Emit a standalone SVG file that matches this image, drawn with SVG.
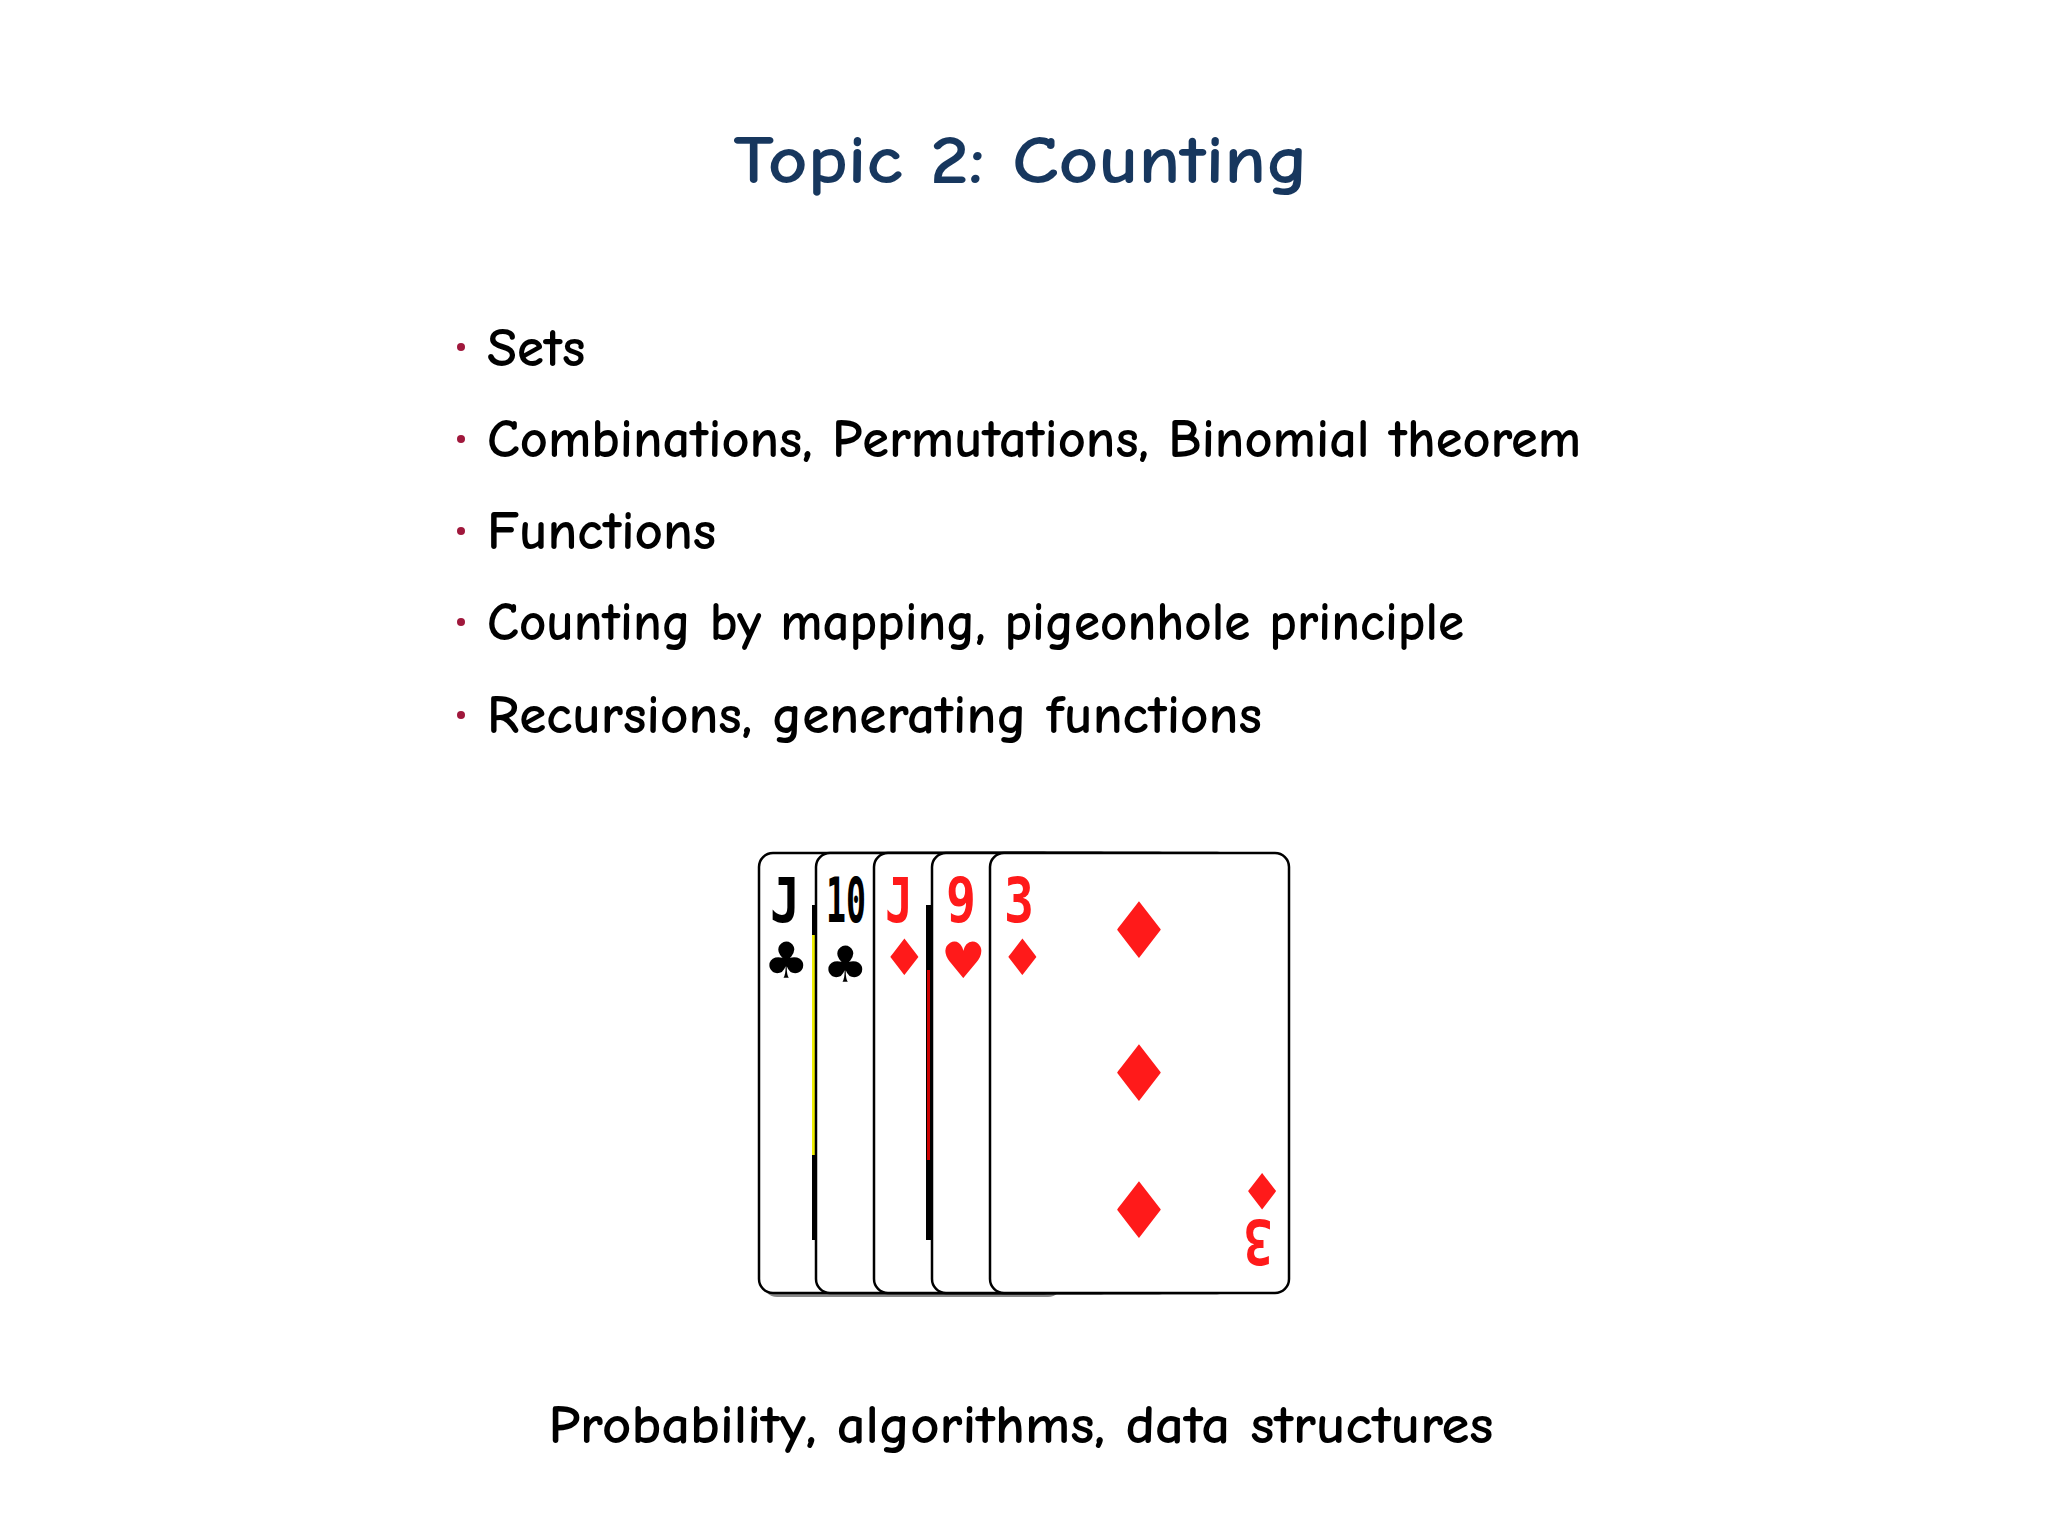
<svg xmlns="http://www.w3.org/2000/svg" width="2048" height="1536" viewBox="0 0 2048 1536">
<style>
.t{font-family:"Comic Neue","Liberation Sans","DejaVu Sans",sans-serif;font-size:55px;fill:#000;font-weight:bold}
.b{fill:#a0183c}
.card{fill:#fff;stroke:#000;stroke-width:2.5}
.rk{font-family:"DejaVu Sans Mono","Liberation Mono",monospace;font-weight:bold;font-size:62px}
.st{font-family:"DejaVu Sans",sans-serif;font-size:50px}
.red{fill:#ff1a1a}.blk{fill:#000}
</style>
<rect width="2048" height="1536" fill="#fff"/>
<g id="title"><text x="1021" y="183" text-anchor="middle" font-family="Comic Neue,Liberation Sans,sans-serif" font-weight="bold" font-size="68" fill="#17375e" textLength="575" lengthAdjust="spacingAndGlyphs">Topic 2: Counting</text></g>
<g id="bullets">
<circle class="b" cx="461" cy="347" r="4"/><text class="t" x="487" y="366">Sets</text>
<circle class="b" cx="461" cy="439" r="4"/><text class="t" x="487" y="457" textLength="1094" lengthAdjust="spacingAndGlyphs">Combinations, Permutations, Binomial theorem</text>
<circle class="b" cx="461" cy="531" r="4"/><text class="t" x="487" y="549">Functions</text>
<circle class="b" cx="461" cy="622" r="4"/><text class="t" x="487" y="640" textLength="977" lengthAdjust="spacingAndGlyphs">Counting by mapping, pigeonhole principle</text>
<circle class="b" cx="461" cy="715" r="4"/><text class="t" x="487" y="733" textLength="775" lengthAdjust="spacingAndGlyphs">Recursions, generating functions</text>
</g>
<g id="cards">
<rect x="763" y="857" width="299" height="440" rx="14" fill="#888"/>
<rect class="card" x="759" y="853" width="299" height="440" rx="14"/>
<text class="rk blk" x="770" y="922" textLength="30" lengthAdjust="spacingAndGlyphs">J</text><text class="st blk" x="764" y="978">♣</text>
<rect x="812" y="905" width="5" height="335" fill="#000"/><rect x="812" y="935" width="3" height="220" fill="#ee0"/>
<rect class="card" x="816" y="853" width="299" height="440" rx="14"/>
<text class="rk blk" x="826" y="922" textLength="40" lengthAdjust="spacingAndGlyphs">10</text><text class="st blk" x="823" y="982">♣</text>
<rect class="card" x="874" y="853" width="299" height="440" rx="14"/>
<text class="rk red" x="885" y="922" textLength="28" lengthAdjust="spacingAndGlyphs">J</text><text class="st red" x="882" y="975">♦</text>
<rect x="926" y="905" width="5" height="335" fill="#000"/><rect x="927" y="970" width="3" height="190" fill="#c00"/>
<rect class="card" x="932" y="853" width="299" height="440" rx="14"/>
<text class="rk red" x="946" y="922" textLength="30" lengthAdjust="spacingAndGlyphs">9</text><text class="st red" x="941" y="978">♥</text>
<rect class="card" x="990" y="853" width="299" height="440" rx="14"/>
<text class="rk red" x="1004" y="922" textLength="30" lengthAdjust="spacingAndGlyphs">3</text><text class="st red" x="1000" y="975">♦</text>
<text class="red" x="1139" y="958" text-anchor="middle" font-family="DejaVu Sans,sans-serif" font-size="78">♦</text>
<text class="red" x="1139" y="1101" text-anchor="middle" font-family="DejaVu Sans,sans-serif" font-size="78">♦</text>
<text class="red" x="1139" y="1238" text-anchor="middle" font-family="DejaVu Sans,sans-serif" font-size="78">♦</text>
<text class="st red" transform="rotate(180 1262 1190)" x="1262" y="1207" text-anchor="middle">♦</text>
<text class="rk red" transform="rotate(180 1258 1243)" x="1258" y="1266" text-anchor="middle" textLength="30" lengthAdjust="spacingAndGlyphs">3</text>
</g>
<g id="footer"><text class="t" x="1021" y="1443" text-anchor="middle" textLength="945" lengthAdjust="spacingAndGlyphs">Probability, algorithms, data structures</text></g>
</svg>
